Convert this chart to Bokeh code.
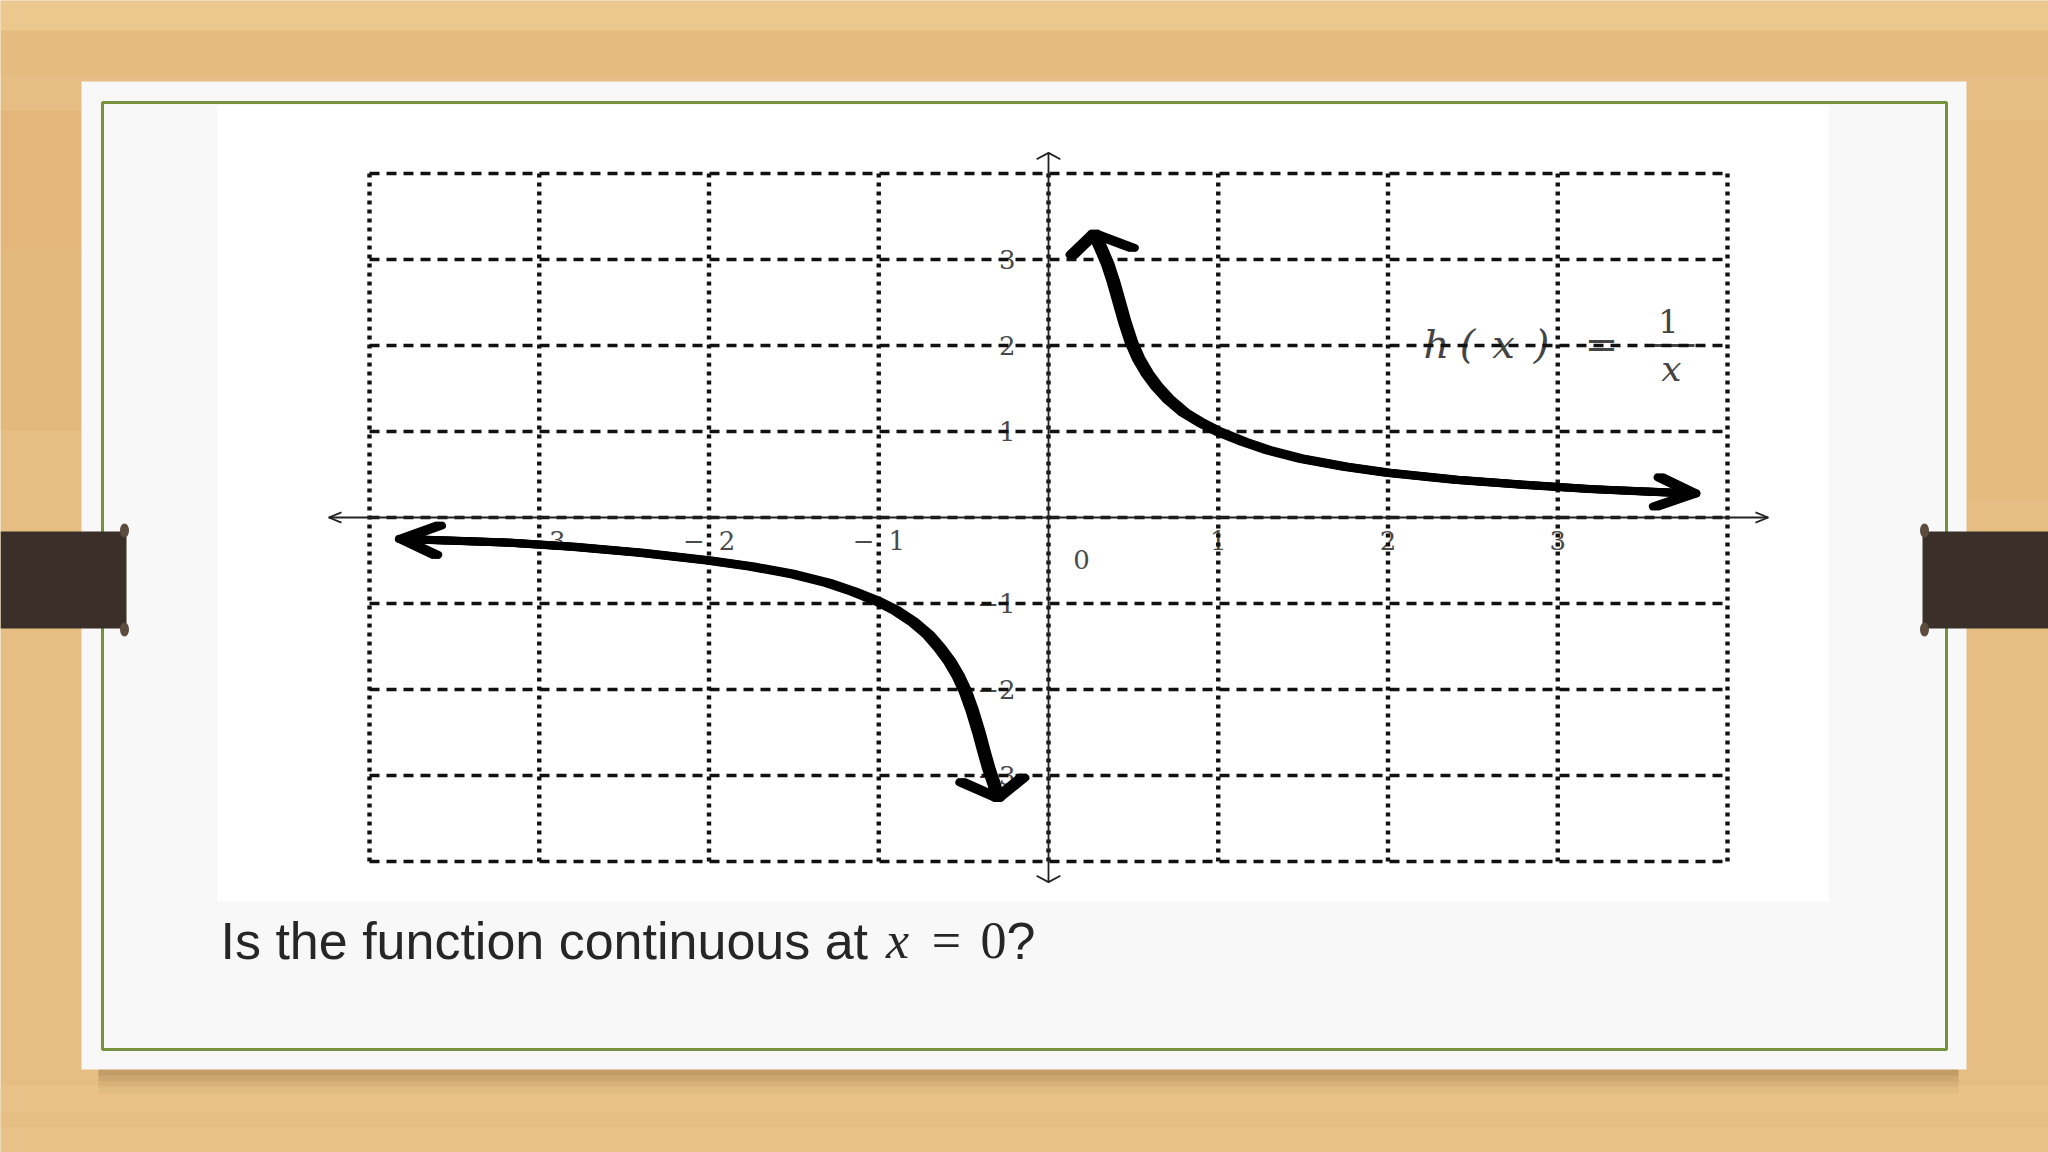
import math
from bokeh.plotting import figure
from bokeh.models import Range1d, ColumnDataSource
from bokeh.transform import dodge
from bokeh.core.properties import value
from bokeh.embed import file_html
from bokeh.resources import INLINE

# ---------------- data ----------------
x_ticks = [-4, -3, -2, -1, 0, 1, 2, 3, 4]
y_ticks = [-4, -3, -2, -1, 0, 1, 2, 3, 4]
x_label_vals = [-3, -2, -1, 1, 2, 3]
x_label_digits = ["3", "2", "1", "1", "2", "3"]
x_label_negative = [True, True, True, False, False, False]
y_label_vals = [3, 2, 1, -1, -2, -3]
y_labels = ["3", "2", "1", "\u22121", "\u22122", "\u22123"]

# h(x) = 1/x, right branch (x > 0)
right_x = [0.27, 0.285, 0.30, 0.32, 0.35, 0.38, 0.41, 0.45, 0.49, 0.53, 0.58,
           0.64, 0.71, 0.80, 0.90, 1.00, 1.15, 1.30, 1.50, 1.75, 2.00, 2.40,
           2.80, 3.20, 3.55, 3.80]
right_y = [3.30, 3.24, 3.17, 3.08, 2.94, 2.76, 2.55, 2.27, 2.03, 1.85, 1.68,
           1.52, 1.37, 1.22, 1.10, 1.00, 0.88, 0.78, 0.68, 0.59, 0.52, 0.44,
           0.38, 0.33, 0.30, 0.28]
# left branch (x < 0)
left_x = [-3.81, -3.50, -3.20, -2.80, -2.40, -2.00, -1.75, -1.50, -1.30, -1.15,
          -1.00, -0.90, -0.80, -0.71, -0.64, -0.58, -0.53, -0.49, -0.45, -0.41,
          -0.38, -0.35, -0.32, -0.30]
left_y = [-0.25, -0.27, -0.29, -0.34, -0.41, -0.50, -0.57, -0.66, -0.76, -0.86,
          -0.98, -1.08, -1.21, -1.36, -1.52, -1.68, -1.85, -2.02, -2.24, -2.50,
          -2.72, -2.93, -3.10, -3.26]

formula_lhs = ["h", "(", "x", ")"]
formula_num = "1"
formula_den = "x"
origin_label = "0"
question = "Is the function continuous at"

# ---------------- layout ----------------
W, H = 2048, 1152
ORIGIN_X, ORIGIN_Y = 1048.0, 517.0   # screen pixel of (0, 0)
UNIT_X, UNIT_Y = 169.75, 86.0        # pixels per unit


def dx(X):
    return (X - ORIGIN_X) / UNIT_X


def dy(Y):
    return (ORIGIN_Y - Y) / UNIT_Y


WOOD = "#E6BE84"
p = figure(width=W, height=H,
           x_range=Range1d(dx(0), dx(W)),
           y_range=Range1d(dy(H), dy(0)),
           output_backend="svg", toolbar_location=None,
           x_axis_type=None, y_axis_type=None,
           min_border=0, outline_line_color=None,
           background_fill_color=WOOD, border_fill_color=WOOD)
p.grid.visible = False


def box(X1, Y1, X2, Y2, color, alpha=1.0):
    p.quad(left=dx(X1), right=dx(X2), top=dy(Y1), bottom=dy(Y2),
           fill_color=color, fill_alpha=alpha, line_color=None)


# wood texture bands (subtle)
box(0, 0, 2048, 30, "#EECF98", 0.55)
box(0, 30, 2048, 75, "#E4B677", 0.3)
box(0, 110, 81, 250, "#DFA864", 0.3)
box(0, 250, 81, 430, "#E2AE6C", 0.3)
box(1966, 120, 2048, 500, "#E4B473", 0.25)
box(0, 1085, 2048, 1152, "#EBC88E", 0.45)
box(0, 1112, 2048, 1126, "#E2B577", 0.25)

# card shadow
for off, a in [(24, 0.05), (18, 0.08), (12, 0.11), (6, 0.14)]:
    box(98, 1060, 1958, 1069 + off, "#7A5A30", a)

# card
box(81, 81, 1966, 1069, "#F8F8F8")
# green border
p.quad(left=dx(102), right=dx(1946), top=dy(102), bottom=dy(1049),
       fill_color=None, line_color="#76923C", line_width=3)
# graph picture (white)
box(217, 105, 1828, 901, "#FFFFFF")

# ---------------- graph ----------------
TICK_FONT = value("DejaVu Serif")
GRAY = "#4A4A4A"
LBL = "26px"
# x tick labels: digits, with separate minus signs (picture is stretched)
digit_dx = [18 / UNIT_X if neg else 0 for neg in x_label_negative]
p.text(x=[v + d for v, d in zip(x_label_vals, digit_dx)],
       y=[dy(540)] * len(x_label_vals), text=x_label_digits,
       text_font=TICK_FONT, text_font_size=LBL, text_color=GRAY,
       text_align="center", text_baseline="middle")
neg_vals = [v for v, neg in zip(x_label_vals, x_label_negative) if neg]
p.text(x=[v - 15 / UNIT_X for v in neg_vals], y=[dy(540)] * len(neg_vals),
       text=["\u2212"] * len(neg_vals),
       text_font=TICK_FONT, text_font_size=LBL, text_color=GRAY,
       text_align="center", text_baseline="middle")
p.text(x=[dx(1015)] * len(y_label_vals), y=y_label_vals, text=y_labels,
       text_font=TICK_FONT, text_font_size=LBL, text_color=GRAY,
       text_align="right", text_baseline="middle")
p.text(x=[dx(1081)], y=[dy(559)], text=[origin_label],
       text_font=TICK_FONT, text_font_size=LBL, text_color=GRAY,
       text_align="center", text_baseline="middle")

# formula h(x) = 1/x (glyphs spread out, as in the stretched picture)
FGRAY = "#444444"
p.text(x=[dx(1436), dx(1467), dx(1503), dx(1541)], y=[dy(343)] * 4,
       text=formula_lhs, text_font=TICK_FONT,
       text_font_style="italic", text_font_size="40px",
       text_color=FGRAY, text_align="center", text_baseline="middle")
p.text(x=[dx(1601)], y=[dy(343)], text=["="],
       text_font=TICK_FONT, text_font_size="40px",
       text_color=FGRAY, text_align="center", text_baseline="middle")
p.text(x=[dx(1668)], y=[dy(321)], text=[formula_num],
       text_font=TICK_FONT, text_font_size="32px",
       text_color=FGRAY, text_align="center", text_baseline="middle")
p.text(x=[dx(1671)], y=[dy(368)], text=[formula_den],
       text_font=TICK_FONT, text_font_style="italic", text_font_size="36px",
       text_color=FGRAY, text_align="center", text_baseline="middle")
p.segment(x0=[dx(1648)], y0=[dy(345)], x1=[dx(1694)], y1=[dy(345)],
          line_color=FGRAY, line_width=3)

# grid: dashed horizontals, dotted verticals
p.multi_line(xs=[[x_ticks[0], x_ticks[-1]] for _ in y_ticks],
             ys=[[v, v] for v in y_ticks],
             line_color="#111111", line_width=3.4, line_dash="10 7")
p.multi_line(xs=[[v, v] for v in x_ticks],
             ys=[[y_ticks[0], y_ticks[-1]] for _ in x_ticks],
             line_color="#111111", line_width=4.4, line_dash="4 5")

# axes with small arrowheads
AX_EXT = 0.24
ax_x0, ax_x1 = x_ticks[0] - AX_EXT, x_ticks[-1] + AX_EXT
ax_y0, ax_y1 = y_ticks[0] - AX_EXT, y_ticks[-1] + AX_EXT
p.segment(x0=[ax_x0, 0], y0=[0, ax_y0], x1=[ax_x1, 0], y1=[0, ax_y1],
          line_color="#222222", line_width=1.8)


def head(tx, ty, fx, fy, L, Wd):
    vx, vy = tx - fx, ty - fy
    n = math.hypot(vx, vy)
    ux, uy = vx / n, vy / n
    nx, ny = -uy, ux
    xs = [tx - L * ux + Wd * nx, tx, tx - L * ux - Wd * nx]
    ys = [ty - L * uy + Wd * ny, ty, ty - L * uy - Wd * ny]
    return xs, ys


axis_heads = [head(ax_x0, 0, 0, 0, 0.075, 0.06), head(ax_x1, 0, 0, 0, 0.075, 0.06),
              head(0, ax_y1, 0, 0, 0.075, 0.07), head(0, ax_y0, 0, 0, 0.075, 0.07)]
p.multi_line(xs=[h[0] for h in axis_heads], ys=[h[1] for h in axis_heads],
             line_color="#222222", line_width=1.8)

# curve: drawn with a small horizontal dodge so near-vertical parts are
# thicker, like the horizontally stretched original picture
SPREAD = 2.8 / UNIT_X
for bx, by in [(right_x, right_y), (left_x, left_y)]:
    src = ColumnDataSource(dict(x=bx, y=by))
    for off in (-SPREAD, 0.0, SPREAD):
        p.line(x=dodge("x", off), y="y", source=src, line_color="black",
               line_width=8, line_cap="round", line_join="round")

curve_heads = [head(right_x[0], right_y[0], right_x[3], right_y[3], 0.21, 0.18),
               head(right_x[-1], right_y[-1], right_x[-3], right_y[-3], 0.21, 0.17),
               head(left_x[0], left_y[0], left_x[2], left_y[2], 0.21, 0.17),
               head(left_x[-1], left_y[-1], left_x[-4], left_y[-4], 0.21, 0.18)]
for off in (-SPREAD, 0.0, SPREAD):
    p.multi_line(xs=[[v + off for v in h[0]] for h in curve_heads],
                 ys=[h[1] for h in curve_heads],
                 line_color="black", line_width=8, line_cap="round",
                 line_join="round")

# ---------------- question text ----------------
TXT = "#262626"
QY = dy(940)
p.text(x=[dx(220)], y=[QY], text=[question],
       text_font=value("Liberation Sans"), text_font_size="52px",
       text_color=TXT, text_align="left", text_baseline="middle")
p.text(x=[dx(897)], y=[QY], text=["x"],
       text_font=value("Liberation Serif"), text_font_style="italic",
       text_font_size="52px", text_color=TXT, text_align="center",
       text_baseline="middle")
p.text(x=[dx(946)], y=[QY], text=["="],
       text_font=value("Liberation Serif"), text_font_size="52px",
       text_color=TXT, text_align="center", text_baseline="middle")
p.text(x=[dx(993)], y=[QY], text=["0"],
       text_font=value("Liberation Serif"), text_font_size="52px",
       text_color=TXT, text_align="center", text_baseline="middle")
p.text(x=[dx(1006)], y=[QY], text=["?"],
       text_font=value("Liberation Sans"), text_font_size="52px",
       text_color=TXT, text_align="left", text_baseline="middle")

# ---------------- side tabs ----------------
TAB = "#3A3029"
box(0, 531, 126, 628, TAB)
box(1922, 531, 2048, 628, TAB)
p.ellipse(x=[dx(124), dx(124), dx(1924), dx(1924)],
          y=[dy(530), dy(629), dy(530), dy(629)],
          width=9 / UNIT_X, height=14 / UNIT_Y,
          fill_color="#5B4C3E", line_color=None)

open("out.html", "w").write(file_html(p, INLINE))
